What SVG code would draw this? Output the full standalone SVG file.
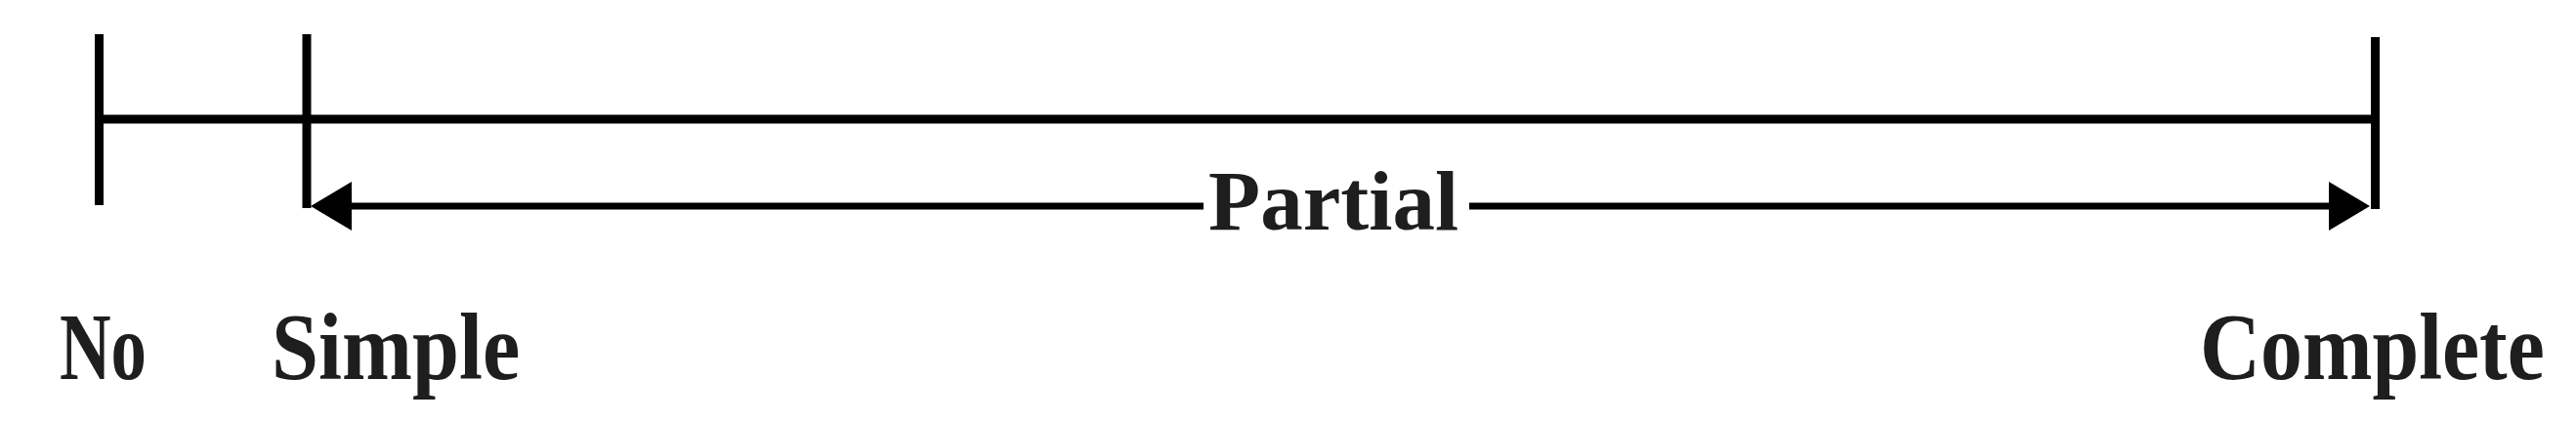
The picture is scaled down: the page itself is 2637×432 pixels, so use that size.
<svg xmlns="http://www.w3.org/2000/svg" width="2637" height="432" viewBox="0 0 2637 432">
<style>
.ln{stroke:#000;stroke-width:9;fill:none}
.ar{stroke:#000;stroke-width:7;fill:none}
.hd{fill:#000}
.t{font-family:"Liberation Serif","Times New Roman",serif;font-weight:bold;font-size:97px;fill:#1e1e1e}
.tp{font-family:"Liberation Serif","Times New Roman",serif;font-weight:bold;font-size:87px;fill:#1e1e1e}
</style>
<rect width="2637" height="432" fill="#fff"/>
<g id="connectors">
<line class="ln" x1="101" y1="122" x2="2428" y2="122"/>
<line class="ar" x1="340" y1="211" x2="1232" y2="211"/>
<line class="ar" x1="1504" y1="211" x2="2400" y2="211"/>
<polygon class="hd" points="318,211 360,186 360,236"/>
<polygon class="hd" points="2426,211 2384,186 2384,236"/>
</g>
<g id="no">
<line class="ln" x1="101.5" y1="35" x2="101.5" y2="210"/>
<text class="t" x="61" y="388" textLength="89" lengthAdjust="spacingAndGlyphs">No</text>
</g>
<g id="simple">
<line class="ln" x1="314" y1="35" x2="314" y2="213"/>
<text class="t" transform="translate(278,388) scale(0.89,1)" x="0" y="0">Simple</text>
</g>
<g id="complete">
<line class="ln" x1="2431.5" y1="38" x2="2431.5" y2="214"/>
<text class="t" transform="translate(2252,388) scale(0.885,1)" x="0" y="0">Complete</text>
</g>
<g id="partial">
<text class="tp" x="1237" y="235">Partial</text>
</g>
</svg>
